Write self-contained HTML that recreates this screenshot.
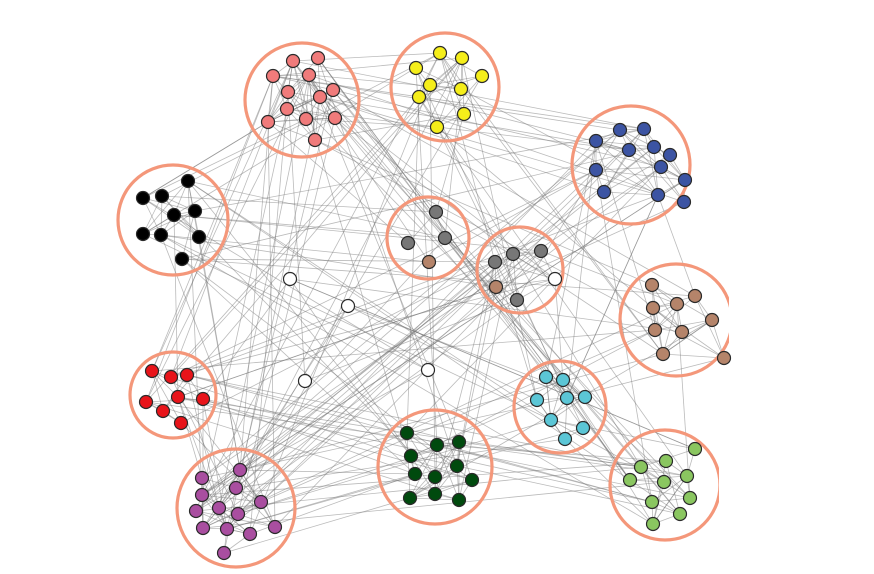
<!DOCTYPE html>
<html><head><meta charset="utf-8"><style>html,body{margin:0;padding:0;background:#fff}svg{display:block}</style></head>
<body>
<svg id="s" width="874" height="574" xmlns="http://www.w3.org/2000/svg">
<defs>
<clipPath id="cg"><rect x="0" y="0" width="719" height="574"/></clipPath>
<clipPath id="cb"><rect x="0" y="0" width="729" height="574"/></clipPath>
</defs>
<g id="edges" stroke="#777" stroke-opacity="0.5" stroke-width="0.8"></g>
<g id="rings" fill="none" stroke="#f4977a" stroke-width="3.2"></g>
<g id="nodes" stroke="#2a2a2a" stroke-width="1.2"></g>
</svg>
<script>
var C=[
{c:[302,100],r:57,f:"#f07b7b",n:[[273,76],[293,61],[318,58],[309,75],[288,92],[320,97],[333,90],[287,109],[306,119],[335,118],[268,122],[315,140]]},
{c:[445,87],r:54,f:"#f5ee1a",n:[[416,68],[440,53],[462,58],[482,76],[430,85],[461,89],[419,97],[464,114],[437,127]]},
{c:[631,165],r:59,f:"#3c54a3",n:[[596,141],[620,130],[644,129],[629,150],[654,147],[670,155],[596,170],[661,167],[685,180],[604,192],[658,195],[684,202]]},
{c:[173,220],r:55,f:"#000",n:[[143,198],[162,196],[188,181],[174,215],[195,211],[143,234],[161,235],[199,237],[182,259]]},
{c:[428,238],r:41,f:"#777",n:[[436,212],[408,243],[445,238],[429,262,"#b5846a"]]},
{c:[520,270],r:43,f:"#777",n:[[495,262],[513,254],[541,251],[555,279,"#fff"],[496,287,"#b5846a"],[517,300]]},
{c:[676,320],r:56,f:"#b5846a",clip:"cb",n:[[652,285],[677,304],[695,296],[653,308],[712,320],[655,330],[682,332],[663,354],[724,358]]},
{c:[173,395],r:43,f:"#e8141a",n:[[152,371],[171,377],[187,375],[146,402],[178,397],[203,399],[163,411],[181,423]]},
{c:[236,508],r:59,f:"#a94ea0",n:[[202,478],[240,470],[202,495],[236,488],[261,502],[196,511],[219,508],[238,514],[203,528],[227,529],[250,534],[275,527],[224,553]]},
{c:[435,467],r:57,f:"#004a0e",n:[[407,433],[437,445],[459,442],[411,456],[415,474],[435,477],[457,466],[472,480],[410,498],[435,494],[459,500]]},
{c:[560,407],r:46,f:"#5bc6d6",n:[[546,377],[563,380],[537,400],[567,398],[585,397],[551,420],[583,428],[565,439]]},
{c:[665,485],r:55,f:"#8ac660",clip:"cg",n:[[695,449],[641,467],[666,461],[630,480],[664,482],[687,476],[652,502],[690,498],[680,514],[653,524]]}
];
var W=[[290,279],[348,306],[305,381],[428,370]];
var ns="http://www.w3.org/2000/svg";
function el(t,a,p){var e=document.createElementNS(ns,t);for(var k in a)e.setAttribute(k,a[k]);document.getElementById(p).appendChild(e);return e;}
var seed=7;function rnd(){seed=(seed*16807)%2147483647;return seed/2147483647;}
var all=[];C.forEach(function(g){g.n.forEach(function(p){all.push(p);});});W.forEach(function(p){all.push(p);});
function line(a,b){el("line",{x1:a[0],y1:a[1],x2:b[0],y2:b[1]},"edges");}
C.forEach(function(g){for(var i=0;i<g.n.length;i++)for(var j=i+1;j<g.n.length;j++)if(rnd()<0.55)line(g.n[i],g.n[j]);});
for(var k=0;k<230;k++){var a=all[Math.floor(rnd()*all.length)],b=all[Math.floor(rnd()*all.length)];if(a!==b)line(a,b);}
C.forEach(function(g){var a={cx:g.c[0],cy:g.c[1],r:g.r};if(g.clip)a["clip-path"]="url(#"+g.clip+")";el("circle",a,"rings");
g.n.forEach(function(p){el("circle",{cx:p[0],cy:p[1],r:6.5,fill:p[2]||g.f},"nodes");});});
W.forEach(function(p){el("circle",{cx:p[0],cy:p[1],r:6.5,fill:"#fff"},"nodes");});
</script>
</body></html>
